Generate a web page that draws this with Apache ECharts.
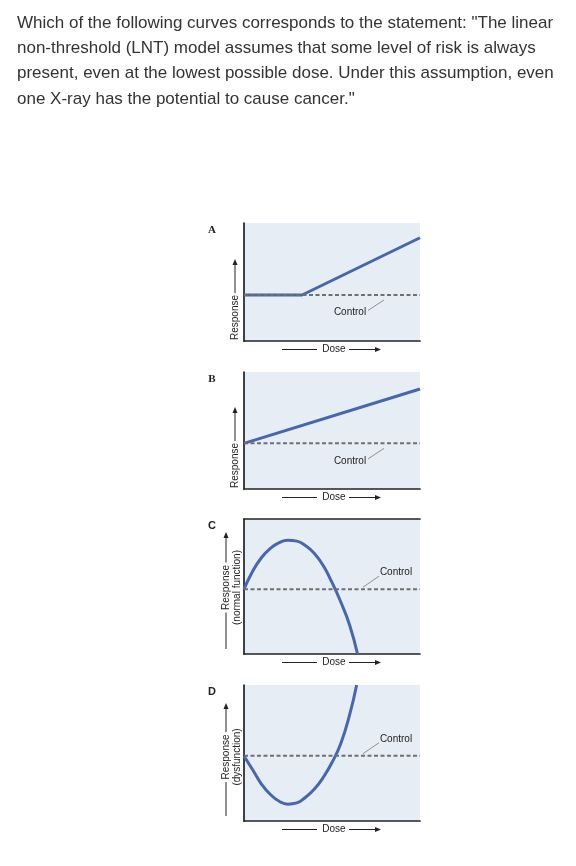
<!DOCTYPE html>
<html>
<head>
<meta charset="utf-8">
<script src="https://cdn.jsdelivr.net/npm/echarts@6/dist/echarts.min.js"></script>
<style>
  html, body { margin:0; padding:0; background:#fff; }
  #wrap { position:relative; width:576px; height:866px; overflow:hidden; }
  #q { position:absolute; left:17px; top:10px; font-family:"Liberation Sans", Arial, sans-serif;
       font-size:17px; line-height:25.2px; color:#333; white-space:nowrap; z-index:2; }
  #chart { position:absolute; left:0; top:0; width:576px; height:866px; }
</style>
</head>
<body>
<div id="wrap">
  <div id="q">Which of the following curves corresponds to the statement: "The linear<br>non-threshold (LNT) model assumes that some level of risk is always<br>present, even at the lowest possible dose. Under this assumption, even<br>one X-ray has the potential to cause cancer."</div>
  <div id="chart"></div>
</div>
<script>
// ---- data ----
const panelLetters = ['A', 'B', 'C', 'D'];
const yAxisLabels = ['Response', 'Response', 'Response\n(normal function)', 'Response\n(dysfunction)'];
const xAxisLabel = 'Dose';
const controlLabel = 'Control';
const controlLevels = [3.9, 3.9, 4.8, 4.8];
const doseA = [0, 3.3, 10];
const respA = [3.9, 3.9, 8.75];
const doseB = [0, 10];
const respB = [3.9, 8.55];
const doseC = [0, 0.5, 1, 1.5, 2, 2.5, 3, 3.5, 4, 4.5, 5, 5.5, 6, 6.45];
const respC = [4.8, 6.15, 7.15, 7.82, 8.25, 8.43, 8.36, 8.02, 7.45, 6.55, 5.3, 3.85, 2.15, 0];
const doseD = [0, 0.5, 1, 1.5, 2, 2.5, 3, 3.5, 4, 4.5, 5, 5.5, 6, 6.4];
const respD = [4.78, 3.75, 2.7, 1.95, 1.45, 1.24, 1.33, 1.75, 2.35, 3.2, 4.3, 5.7, 7.8, 10];

// ---- layout ----
const grids = [
  {l:244, t:223, w:176, h:118},
  {l:244, t:372, w:176, h:117},
  {l:244, t:519, w:176, h:135},
  {l:244, t:685, w:176, h:136}
];
const BLUE = '#4567ac', GREY = '#6f6f6f', AX = '#222', BG = '#e6edf5';
const FONT = '"Liberation Sans", Arial, sans-serif';

const chart = echarts.init(document.getElementById('chart'), null, {renderer:'canvas'});

const zip = (xs, ys) => xs.map((x, i) => [x, ys[i]]);
const curves = [zip(doseA, respA), zip(doseB, respB), zip(doseC, respC), zip(doseD, respD)];

const gridOpt = grids.map(g => ({left:g.l, top:g.t, width:g.w, height:g.h, show:true,
  backgroundColor:BG, borderWidth:0, containLabel:false}));
const axisCommon = {type:'value', min:0, max:10, axisTick:{show:false}, axisLabel:{show:false},
  splitLine:{show:false}};
const xAxes = grids.map((g, i) => Object.assign({}, axisCommon, {gridIndex:i, position:'bottom',
  axisLine:{show:true, onZero:false, lineStyle:{color:AX, width:1.7}}}));
// top border for panel C
xAxes.push(Object.assign({}, axisCommon, {gridIndex:2, position:'top',
  axisLine:{show:true, onZero:false, lineStyle:{color:AX, width:1.7}}}));
const yAxes = grids.map((g, i) => Object.assign({}, axisCommon, {gridIndex:i, position:'left',
  axisLine:{show:true, onZero:false, lineStyle:{color:AX, width:1.7}}}));

const series = [];
curves.forEach((c, i) => {
  series.push({type:'line', xAxisIndex:i, yAxisIndex:i, data:c, showSymbol:false,
    smooth: i >= 2 ? 0.5 : false, lineStyle:{color:BLUE, width:3}, z:3, silent:true, animation:false});
  series.push({type:'line', xAxisIndex:i, yAxisIndex:i, data:[[0, controlLevels[i]], [10, controlLevels[i]]],
    showSymbol:false, lineStyle:{color:GREY, width:2, type:[4, 2.5]}, z:4, silent:true, animation:false});
});

chart.setOption({animation:false, grid:gridOpt, xAxis:xAxes, yAxis:yAxes, series:series});

// ---- annotations (positioned from the axes' own scales) ----
const gfx = [];
const txt = (x, y, s, opt) => gfx.push(Object.assign({type:'text', x:x, y:y, silent:true,
  style:Object.assign({text:s, fill:AX, font:'10px ' + FONT, align:'center', verticalAlign:'middle'}, opt || {})}));
const seg = (x1, y1, x2, y2, col, w) => gfx.push({type:'line', silent:true,
  shape:{x1:x1, y1:y1, x2:x2, y2:y2}, style:{stroke:col || AX, lineWidth:w || 1}});
const tri = (pts) => gfx.push({type:'polygon', silent:true, shape:{points:pts}, style:{fill:AX}});

grids.forEach((g, i) => {
  const b = g.t + g.h;
  const cy = chart.convertToPixel({gridIndex:i}, [0, controlLevels[i]])[1];
  const serif = i < 2;
  txt(g.l - 32, g.t + 7, panelLetters[i], {font:'bold 11px ' + (serif ? '"Liberation Serif", serif' : FONT)});
  const dy = b + 8.5;
  txt(g.l + 90, dy, xAxisLabel);
  seg(g.l + 38, dy, g.l + 73, dy);
  seg(g.l + 105, dy, g.l + 131, dy);
  tri([[g.l + 131, dy - 2.5], [g.l + 137, dy], [g.l + 131, dy + 2.5]]);
  if (i < 2) {
    const ax = g.l - 9, ty = b - 23.5;
    gfx.push({type:'text', x:ax, y:ty, rotation:Math.PI / 2, silent:true,
      style:{text:yAxisLabels[i], fill:AX, font:'10px ' + FONT, align:'center', verticalAlign:'middle'}});
    seg(ax, b - 48, ax, b - 76);
    tri([[ax - 2.5, b - 76], [ax, b - 82], [ax + 2.5, b - 76]]);
    txt(g.l + 106, cy + 17.5, controlLabel);
    seg(g.l + 124, cy + 15.5, g.l + 140, cy + 5, '#777', 0.8);
  } else {
    const mid = g.t + g.h / 2 + (i === 2 ? 1 : 4);
    gfx.push({type:'text', x:g.l - 12, y:mid, rotation:Math.PI / 2, silent:true,
      style:{text:yAxisLabels[i], fill:AX, font:'10px ' + FONT, align:'center', verticalAlign:'middle', lineHeight:11}});
    const ax = g.l - 18;
    const tip = g.t + (i === 2 ? 13 : 18);
    seg(ax, mid - 25, ax, tip + 6);
    tri([[ax - 2.5, tip + 6], [ax, tip], [ax + 2.5, tip + 6]]);
    seg(ax, mid + 25, ax, b - 5);
    txt(g.l + 152, cy - 16.5, controlLabel);
    seg(g.l + 135, cy - 13, g.l + 119, cy - 2, '#777', 0.8);
  }
});

chart.setOption({graphic:{elements:gfx}});
</script>
</body>
</html>
